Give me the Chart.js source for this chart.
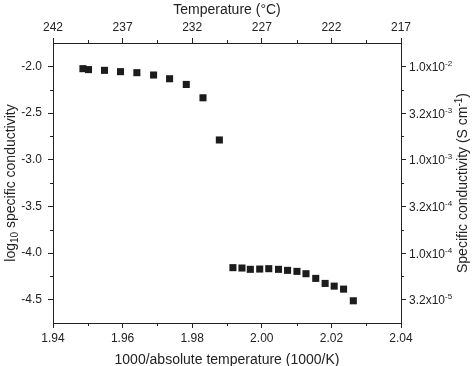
<!DOCTYPE html>
<html>
<head>
<meta charset="utf-8">
<script src="https://cdn.jsdelivr.net/npm/chart.js@4.4.1/dist/chart.umd.min.js"></script>
<style>
  html, body { margin: 0; padding: 0; background: #fff; }
  #wrap { width: 474px; height: 366px; }
</style>
</head>
<body>
<div id="wrap"><canvas id="cond" width="474" height="366"></canvas></div>
<script>
// 1000/T (1000/K) and log10 conductivity
const invT = [1.9486, 1.9502, 1.9548, 1.9594, 1.9641, 1.9689, 1.9735, 1.9783, 1.9831, 1.9878,
  1.9917, 1.9943, 1.9967, 1.9994, 2.0020, 2.0048, 2.0074, 2.0101, 2.0127, 2.0155, 2.0182, 2.0208, 2.0235, 2.0263];
const logSigma = [-2.025, -2.035, -2.043, -2.057, -2.068, -2.093, -2.133, -2.194, -2.337, -2.789,
  -4.157, -4.161, -4.175, -4.172, -4.168, -4.175, -4.186, -4.197, -4.222, -4.272, -4.326, -4.355, -4.387, -4.512];

// axes
const xTicks = [1.94, 1.96, 1.98, 2.00, 2.02, 2.04];
const xMinor = [1.95, 1.97, 1.99, 2.01, 2.03];
const topLabels = ["242", "237", "232", "227", "222", "217"];
const yTicks = [-2.0, -2.5, -3.0, -3.5, -4.0, -4.5];
const yMinor = [-2.25, -2.75, -3.25, -3.75, -4.25];
const rightMant = ["1.0x10", "3.2x10", "1.0x10", "3.2x10", "1.0x10", "3.2x10"];
const rightExp = ["-2", "-3", "-3", "-4", "-4", "-5"];

const FONT = "'Liberation Sans', Arial, sans-serif";
const INK = "#222";

// draws text pieces with sub/superscripts, starting at x (left) on baseline y
function richText(ctx, parts, x, y, align) {
  let w = 0;
  parts.forEach(p => { ctx.font = p.size + "px " + FONT; w += ctx.measureText(p.t).width; });
  let cx = align === "center" ? x - w / 2 : x;
  parts.forEach(p => {
    ctx.font = p.size + "px " + FONT;
    ctx.fillText(p.t, cx, y + (p.dy || 0));
    cx += ctx.measureText(p.t).width;
  });
}

const extras = {
  id: "extras",
  afterDraw(chart) {
    const ctx = chart.ctx;
    const { x, x2, y, y2 } = chart.scales;
    const area = chart.chartArea;
    ctx.save();
    ctx.strokeStyle = INK;
    ctx.lineWidth = 1;
    ctx.beginPath();
    xMinor.forEach(v => {
      const px = Math.round(x.getPixelForValue(v)) + 0.5;
      ctx.moveTo(px, area.bottom); ctx.lineTo(px, area.bottom + 3);
      ctx.moveTo(px, area.top); ctx.lineTo(px, area.top - 3);
    });
    yMinor.forEach(v => {
      const py = Math.round(y.getPixelForValue(v)) + 0.5;
      ctx.moveTo(area.left, py); ctx.lineTo(area.left - 3, py);
      ctx.moveTo(area.right, py); ctx.lineTo(area.right + 3, py);
    });
    ctx.stroke();

    ctx.fillStyle = INK;
    ctx.textBaseline = "alphabetic";
    ctx.textAlign = "left";
    // right axis labels
    yTicks.forEach((v, i) => {
      const py = y2.getPixelForValue(v);
      richText(ctx, [{ t: rightMant[i], size: 12 }, { t: rightExp[i], size: 8, dy: -5 }], area.right + 8, py + 4.5);
    });

    // titles
    richText(ctx, [{ t: "1000/absolute temperature (1000/K)", size: 14 }], (area.left + area.right) / 2, 364, "center");
    richText(ctx, [{ t: "Temperature (°C)", size: 14 }], (area.left + area.right) / 2, 14, "center");

    ctx.save();
    ctx.translate(15, (area.top + area.bottom) / 2);
    ctx.rotate(-Math.PI / 2);
    richText(ctx, [{ t: "log", size: 14 }, { t: "10", size: 10, dy: 3 }, { t: " specific conductivity", size: 14 }], 0, 0, "center");
    ctx.restore();

    ctx.save();
    ctx.translate(467, (area.top + area.bottom) / 2);
    ctx.rotate(-Math.PI / 2);
    richText(ctx, [{ t: "Specific conductivity (S cm", size: 14 }, { t: "-1", size: 10, dy: -5 }, { t: ")", size: 14 }], 0, 0, "center");
    ctx.restore();
    ctx.restore();
  }
};

const tickFont = { family: FONT, size: 12 };
const gridOpts = { drawOnChartArea: false, drawTicks: true, tickLength: 5, color: INK, lineWidth: 1 };
const borderOpts = { color: INK, width: 1 };

new Chart(document.getElementById("cond"), {
  type: "scatter",
  data: {
    datasets: [{
      label: "log10 conductivity",
      data: invT.map((v, i) => ({ x: v, y: logSigma[i] })),
      xAxisID: "x",
      yAxisID: "y",
      pointStyle: "rect",
      pointRadius: 5,
      pointHoverRadius: 5,
      backgroundColor: "#1c1c1c",
      borderWidth: 0,
      showLine: false
    }]
  },
  plugins: [extras],
  options: {
    responsive: false,
    animation: false,
    layout: { padding: 0 },
    plugins: { legend: { display: false }, tooltip: { enabled: false } },
    scales: {
      x: {
        type: "linear", position: "bottom", min: 1.94, max: 2.04,
        afterBuildTicks: s => { s.ticks = xTicks.map(v => ({ value: v })); },
        afterFit: s => { s.height = 43; },
        grid: gridOpts, border: borderOpts,
        ticks: { font: tickFont, color: INK, padding: 3, maxRotation: 0, autoSkip: false, callback: v => v.toFixed(2) }
      },
      x2: {
        type: "linear", axis: "x", position: "top", min: 1.94, max: 2.04,
        afterBuildTicks: s => { s.ticks = xTicks.map(v => ({ value: v })); },
        afterFit: s => { s.height = 43; },
        grid: gridOpts, border: borderOpts,
        ticks: { font: tickFont, color: INK, padding: 3, maxRotation: 0, autoSkip: false, callback: (v, i) => topLabels[i] }
      },
      y: {
        type: "linear", position: "left", min: -4.75, max: -1.75,
        afterBuildTicks: s => { s.ticks = yTicks.map(v => ({ value: v })); },
        afterFit: s => { s.width = 53; },
        grid: gridOpts, border: borderOpts,
        ticks: { font: tickFont, color: INK, padding: 6, autoSkip: false, callback: v => v.toFixed(1) }
      },
      y2: {
        type: "linear", axis: "y", position: "right", min: -4.75, max: -1.75,
        afterBuildTicks: s => { s.ticks = yTicks.map(v => ({ value: v })); },
        afterFit: s => { s.width = 73; },
        grid: gridOpts, border: borderOpts,
        ticks: { display: false }
      }
    }
  }
});
</script>
</body>
</html>
